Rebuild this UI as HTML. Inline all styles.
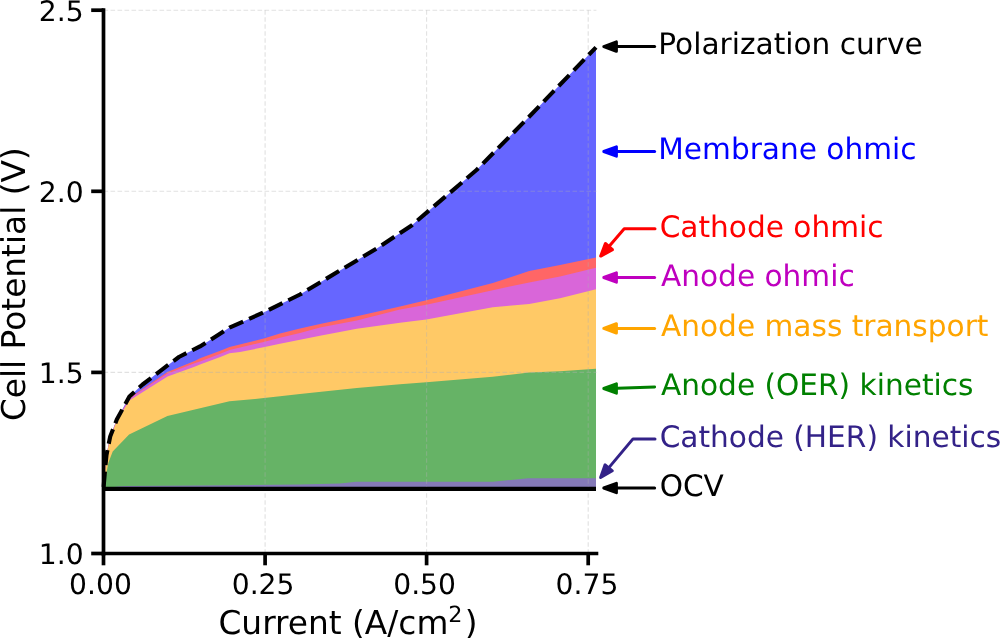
<!DOCTYPE html>
<html lang="en"><head><meta charset="utf-8"><title>Polarization curve breakdown</title>
<style>
html,body{margin:0;padding:0;background:#fff;}
body{width:1000px;height:638px;overflow:hidden;}
svg{display:block;filter:blur(0.55px);text-rendering:geometricPrecision;font-family:"DejaVu Sans","Liberation Sans",sans-serif;}
</style></head><body>
<svg width="1000" height="638" viewBox="0 0 1000 638">
<rect width="1000" height="638" fill="#ffffff"/>
<polygon points="103.5,488.3 105.5,465.0 106.5,455.0 110.2,436.5 116.8,419.5 129.4,396.5 142.6,384.5 161.4,370.1 167.2,365.7 178.9,357.0 200.0,346.4 216.9,335.8 229.5,327.6 264.6,312.0 300.0,294.5 376.8,248.4 411.6,225.5 445.0,196.9 476.5,170.0 528.5,117.4 596.0,47.3 596.0,488.9 103.5,488.9" fill="#6666ff"/>
<polygon points="103.5,488.3 105.5,465.5 106.5,455.5 110.2,437.0 116.8,420.2 129.4,398.0 167.5,372.0 195.2,360.7 200.0,358.3 220.3,350.7 229.5,347.1 264.6,338.3 280.0,333.5 300.0,328.5 320.0,323.9 356.8,316.2 400.0,306.5 426.3,300.2 492.8,283.1 529.2,271.0 560.0,265.1 596.0,257.4 596.0,488.9 103.5,488.9" fill="#ff6666"/>
<polygon points="103.5,488.3 105.5,465.8 106.5,455.8 110.2,437.4 116.8,420.6 129.4,398.6 167.5,373.6 195.2,362.9 200.0,361.5 220.3,353.8 229.5,349.9 264.6,341.7 280.0,337.8 300.0,333.0 320.0,327.6 356.8,320.6 400.0,309.5 426.3,304.7 492.8,290.2 529.2,282.4 560.0,276.4 596.0,267.8 596.0,488.9 103.5,488.9" fill="#d966d9"/>
<polygon points="103.5,488.3 105.5,466.0 106.5,456.0 110.2,437.8 116.8,421.0 129.4,400.5 167.6,376.4 195.2,366.4 200.0,364.6 220.3,357.0 229.5,353.3 240.0,351.9 264.6,347.1 280.0,343.7 300.0,339.7 320.0,335.8 356.8,328.7 400.0,322.8 426.3,319.4 492.8,307.2 529.2,304.0 560.0,298.2 596.0,289.3 596.0,488.9 103.5,488.9" fill="#ffc966"/>
<polygon points="103.5,488.3 105.5,478.0 108.4,462.8 112.7,451.5 129.1,434.6 167.4,416.0 229.5,401.3 255.0,399.1 280.0,396.3 300.0,394.1 356.8,388.0 400.0,384.2 426.3,382.3 492.8,376.7 529.2,372.6 560.0,371.2 596.0,368.8 596.0,488.9 103.5,488.9" fill="#66b366"/>
<polygon points="103.5,488.3 118.0,486.4 126.0,486.0 230.0,485.3 300.0,484.6 340.0,483.4 356.0,481.8 493.0,481.8 528.0,478.2 596.0,478.2 596.0,488.9 103.5,488.9" fill="#857ab8"/>
<g stroke="#b0b0b0" stroke-opacity="0.38" stroke-width="1.1" stroke-dasharray="4.6 2.4" fill="none"><line x1="265.1" y1="10.2" x2="265.1" y2="553.5"/><line x1="426.6" y1="10.2" x2="426.6" y2="553.5"/><line x1="588.2" y1="10.2" x2="588.2" y2="553.5"/><line x1="103.5" y1="372.4" x2="596.4" y2="372.4"/><line x1="103.5" y1="191.3" x2="596.4" y2="191.3"/><line x1="103.5" y1="10.2" x2="596.4" y2="10.2"/></g>
<line x1="103.5" y1="488.9" x2="596.0" y2="488.9" stroke="#000" stroke-width="4.3"/>
<polyline points="103.5,488.3 105.5,465.0 106.5,455.0 110.2,436.5 116.8,419.5 129.4,396.5 142.6,384.5 161.4,370.1 167.2,365.7 178.9,357.0 200.0,346.4 216.9,335.8 229.5,327.6 264.6,312.0 300.0,294.5 376.8,248.4 411.6,225.5 445.0,196.9 476.5,170.0 528.5,117.4 596.0,47.3" fill="none" stroke="#000" stroke-width="4.1" stroke-dasharray="15.2 6.5" stroke-dashoffset="-1.5" stroke-linejoin="round"/>
<g stroke="#000" stroke-width="3.7" fill="none" stroke-linecap="butt">
<line x1="103.5" y1="8.3" x2="103.5" y2="555.5"/>
<line x1="101.5" y1="553.5" x2="598.3" y2="553.5"/>
<line x1="91.2" y1="553.5" x2="103.5" y2="553.5"/>
<line x1="91.2" y1="372.4" x2="103.5" y2="372.4"/>
<line x1="91.2" y1="191.3" x2="103.5" y2="191.3"/>
<line x1="91.2" y1="10.2" x2="103.5" y2="10.2"/>
<line x1="103.5" y1="553.5" x2="103.5" y2="565.3"/>
<line x1="265.1" y1="553.5" x2="265.1" y2="565.3"/>
<line x1="426.6" y1="553.5" x2="426.6" y2="565.3"/>
<line x1="588.2" y1="553.5" x2="588.2" y2="565.3"/>
</g>
<g font-size="28.2" fill="#000">
<text x="100.5" y="593.8" text-anchor="middle">0.00</text>
<text x="263.1" y="593.8" text-anchor="middle">0.25</text>
<text x="424.6" y="593.8" text-anchor="middle">0.50</text>
<text x="587.0" y="593.8" text-anchor="middle">0.75</text>
<text x="83.6" y="563.9" text-anchor="end">1.0</text>
<text x="83.6" y="382.8" text-anchor="end">1.5</text>
<text x="83.6" y="201.7" text-anchor="end">2.0</text>
<text x="83.6" y="20.6" text-anchor="end">2.5</text>
</g>
<text font-size="32.8" x="348.0" y="633.6" text-anchor="middle">Current (A/cm<tspan font-size="22.304" dy="-11.4">2</tspan><tspan dy="11.4" dx="2.2">)</tspan></text>
<text font-size="32.8" transform="translate(25.4,284.2) rotate(-90)" text-anchor="middle">Cell Potential (V)</text>
<text font-size="29.6" fill="#000000" x="658.34" y="54.1">Polarization curve</text>
<text font-size="29.6" fill="#0000ff" x="658.34" y="159.1">Membrane ohmic</text>
<text font-size="29.6" fill="#ff0000" x="659.67" y="236.7">Cathode ohmic</text>
<text font-size="29.6" fill="#bf00bf" x="661.00" y="285.9">Anode ohmic</text>
<text font-size="29.6" fill="#ffa500" x="661.00" y="336.2">Anode mass transport</text>
<text font-size="29.6" fill="#008000" x="661.00" y="395.3">Anode (OER) kinetics</text>
<text font-size="29.6" fill="#332288" x="659.67" y="446.7">Cathode (HER) kinetics</text>
<text font-size="29.6" fill="#000000" x="659.67" y="495.9">OCV</text>
<g stroke="#000000" fill="#000000" stroke-width="3" stroke-linecap="round" stroke-linejoin="round"><line x1="610.2" y1="46.6" x2="654.6" y2="46.6"/><polygon points="603.8,46.6 616.4,41.9 616.4,51.3"/></g>
<g stroke="#0000ff" fill="#0000ff" stroke-width="3" stroke-linecap="round" stroke-linejoin="round"><line x1="610.2" y1="151.5" x2="654.6" y2="151.5"/><polygon points="603.8,151.5 616.4,146.8 616.4,156.2"/></g>
<g stroke="#ff0000" fill="#ff0000" stroke-width="3" stroke-linecap="round" stroke-linejoin="round"><polyline fill="none" points="604.9,251.2 624.2,228.8 655.0,228.8"/><polygon points="600.7,256.1 612.5,249.6 605.4,243.5"/></g>
<g stroke="#bf00bf" fill="#bf00bf" stroke-width="3" stroke-linecap="round" stroke-linejoin="round"><line x1="610.2" y1="277.5" x2="654.6" y2="277.5"/><polygon points="603.8,277.5 616.4,272.8 616.4,282.2"/></g>
<g stroke="#ffa500" fill="#ffa500" stroke-width="3" stroke-linecap="round" stroke-linejoin="round"><line x1="610.2" y1="328.4" x2="654.6" y2="328.4"/><polygon points="603.8,328.4 616.4,323.7 616.4,333.1"/></g>
<g stroke="#008000" fill="#008000" stroke-width="3" stroke-linecap="round" stroke-linejoin="round"><line x1="610.2" y1="388.5" x2="654.6" y2="386.9"/><polygon points="603.8,388.5 616.4,383.8 616.4,393.2"/></g>
<g stroke="#332288" fill="#332288" stroke-width="3" stroke-linecap="round" stroke-linejoin="round"><polyline fill="none" points="604.7,472.6 633.0,438.9 655.0,438.9"/><polygon points="600.6,477.5 612.3,470.8 605.1,464.8"/></g>
<g stroke="#000000" fill="#000000" stroke-width="3" stroke-linecap="round" stroke-linejoin="round"><line x1="610.2" y1="488.0" x2="654.6" y2="488.0"/><polygon points="603.8,488.0 616.4,483.3 616.4,492.7"/></g>
</svg>
</body></html>
